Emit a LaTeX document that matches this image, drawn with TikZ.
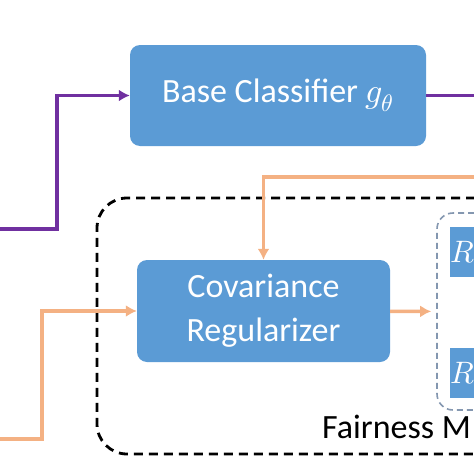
\documentclass[tikz,border=0pt]{standalone}
\usepackage{fontspec}
\usepackage{unicode-math}
\setmainfont{Carlito}
\setmathfont{Latin Modern Math}
\usetikzlibrary{arrows.meta,positioning}
\definecolor{boxblue}{RGB}{91,155,213}
\definecolor{lineorange}{RGB}{244,177,131}
\definecolor{linepurple}{RGB}{112,48,160}
\definecolor{groupgray}{RGB}{132,151,176}

\begin{document}
\begin{tikzpicture}[x=1pt, y=-1pt, every node/.style={font=\fontsize{34}{44}\selectfont},
  b/.style={rounded corners=10pt,fill=boxblue,text=white,align=center,inner sep=0pt},
  rbox/.style={fill=boxblue,text=white,minimum width=60pt,minimum height=50pt,text width=59pt,inner sep=0.5pt,align=left,font=\fontsize{31}{36}\selectfont},
  pa/.style={-{Latex[length=11pt,width=12pt]},line width=3.5pt,draw=linepurple},
  oa/.style={-{Latex[length=11pt,width=12pt]},line width=3.5pt,draw=lineorange}]
  \clip (0,0) rectangle (474,474);
  % blocks
  \node[b,minimum width=296pt,minimum height=101pt] (base) at (278,95.5) {Base Classifier $g_\theta$};
  \node[draw,dashed,dash pattern=on 9pt off 6pt,line width=2.8pt,rounded corners=30pt,
        minimum width=423pt,minimum height=256pt] (fairmod) at (308.5,326) {};
  \node[anchor=base west,inner sep=0pt] (fairlbl) at (322,438) {Fairness M};
  \node[b,minimum width=253pt,minimum height=102pt] (covreg) at (263.5,311) {Covariance\\Regularizer};
  \node[draw=groupgray,dashed,dash pattern=on 6pt off 4pt,line width=1.6pt,rounded corners=16pt,
        minimum width=83pt,minimum height=197pt] (rgroup) at (478.5,311.5) {};
  \node[rbox,anchor=north west] (r1) at (450,227) {$R$};
  \node[rbox,anchor=north west] (r2) at (450,348) {$R$};
  % free ends
  \coordinate (pin) at (0,229);
  \coordinate (pout) at (480,95.5);
  \coordinate (oin) at (480,177);
  \coordinate (lin) at (0,439);
  % connectors
  \draw[pa] (pin) -- ++(57,0) |- (base);
  \draw[line width=3.5pt,draw=linepurple] (base) -- (pout);
  \draw[oa] (oin) -| (covreg);
  \draw[oa] (lin) -- ++(42,0) |- (covreg);
  \draw[oa,shorten >=5pt] (covreg) -- (rgroup);
\end{tikzpicture}
\end{document}
